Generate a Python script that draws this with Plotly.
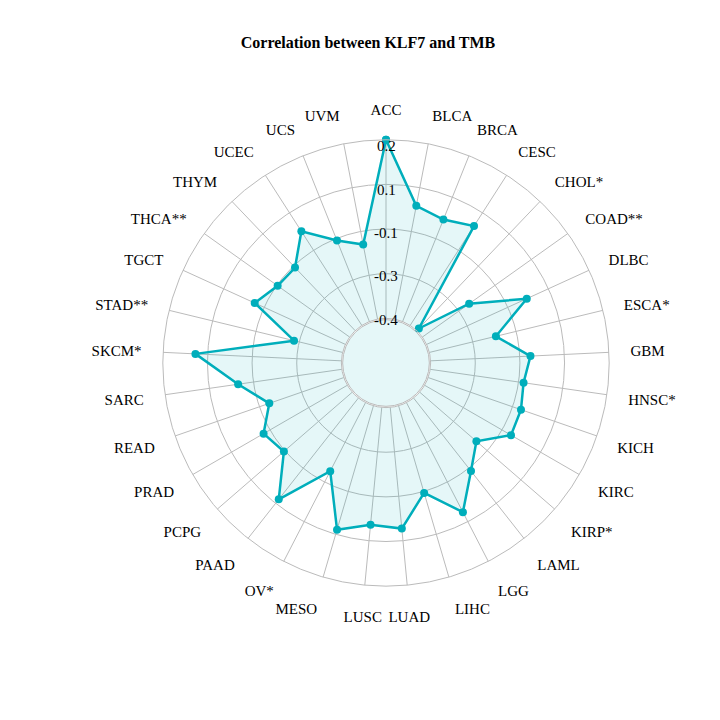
import plotly.graph_objects as go

categories = ["ACC","BLCA","BRCA","CESC","CHOL*","COAD**","DLBC","ESCA*","GBM","HNSC*","KICH","KIRC","KIRP*","LAML","LGG","LIHC","LUAD","LUSC","MESO","OV*","PAAD","PCPG","PRAD","READ","SARC","SKCM*","STAD**","TGCT","THCA**","THYM","UCEC","UCS","UVM"]
values = [0.2,-0.012,-0.031,-0.003,-0.39,-0.207,-0.03,-0.17,-0.064,-0.083,-0.07,-0.065,-0.148,-0.088,0.014,-0.095,0.009,-0.004,0.034,-0.141,0.033,-0.096,-0.075,-0.135,-0.048,0.091,-0.232,-0.065,-0.103,-0.107,-0.024,-0.107,-0.145]
tickvals = [-0.4,-0.25,-0.1,0.05,0.2]
ticktext = ["-0.4","-0.3","-0.1","0.1","0.2"]

col = "#00AEBB"
rmin, rmax, hole = -0.4, 0.2, 0.2
cx, cy, R = 0.525, 0.507, 0.301

fig = go.Figure(go.Scatterpolar(
    r=values + values[:1], theta=categories + categories[:1],
    mode="lines+markers", line=dict(color=col, width=2.5),
    marker=dict(size=8, color=col), fill="toself",
    fillcolor="rgba(0,174,187,0.1)"))

# hole fill + inner circle
hr = R * hole
fig.add_shape(type="circle", xref="paper", yref="paper",
              x0=cx - hr, x1=cx + hr, y0=cy - hr, y1=cy + hr,
              fillcolor="rgba(0,174,187,0.1)", line=dict(color="#bbbbbb", width=1),
              layer="below")
for tv, tt in zip(tickvals, ticktext):
    rp = R * (hole + (1 - hole) * (tv - rmin) / (rmax - rmin))
    fig.add_annotation(x=cx, y=cy + rp, xref="paper", yref="paper", text=tt,
                       showarrow=False, xanchor="center", yanchor="middle",
                       font=dict(family="Liberation Serif", size=15, color="black"))

fig.update_layout(
    width=720, height=720, showlegend=False,
    paper_bgcolor="white", margin=dict(l=0, r=0, t=0, b=0),
    font=dict(family="Liberation Serif", size=15, color="black"),
    title=dict(text="<b>Correlation between KLF7 and TMB</b>", x=0.5, xanchor="center",
               y=0.952, yanchor="middle", font=dict(size=16)),
    polar=dict(
        domain=dict(x=[0.215, 0.835], y=[0.197, 0.817]),
        hole=hole, bgcolor="rgba(0,0,0,0)",
        radialaxis=dict(range=[rmin, rmax], tickvals=tickvals, showticklabels=False,
                        angle=90, showline=False, ticks="",
                        gridcolor="#bbbbbb", gridwidth=1),
        angularaxis=dict(direction="clockwise", rotation=90, gridcolor="#bbbbbb",
                         linecolor="#bbbbbb", ticks="outside", ticklen=18,
                         tickcolor="rgba(0,0,0,0)", tickfont=dict(size=15)),
    ))
fig.write_html("out.html")
